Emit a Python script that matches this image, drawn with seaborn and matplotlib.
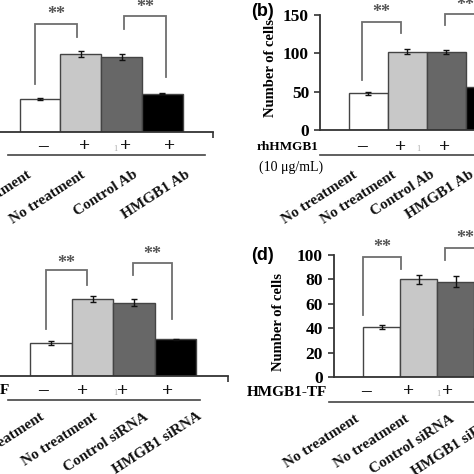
import matplotlib
matplotlib.use("Agg")
import matplotlib.pyplot as plt
import matplotlib.transforms as mtrans
from matplotlib.lines import Line2D
import seaborn as sns
import pandas as pd

# ---------------- data ----------------
keys = ["g1", "g2", "g3", "g4"]
bar_colors = ["#ffffff", "#c8c8c8", "#676767", "#000000"]
signs = ["\u2013", "+", "+", "+"]

labels_a = ["No treatment", "No treatment", "Control Ab", "HMGB1 Ab"]
values_a = [43, 102, 98, 50]
errors_a = [1.5, 4, 4, 1]

labels_b = ["No treatment", "No treatment", "Control Ab", "HMGB1 Ab"]
values_b = [48, 102, 102, 56]
errors_b = [2, 3.5, 2.5, 1]

labels_c = ["No treatment", "No treatment", "Control siRNA", "HMGB1 siRNA"]
values_c = [27, 63, 60, 30]
errors_c = [1.5, 2.5, 3, 0.5]

labels_d = ["No treatment", "No treatment", "Control siRNA", "HMGB1 siRNA"]
values_d = [41, 80, 78, 40]
errors_d = [1.5, 4, 4.5, 1]

yticks_b = [0, 50, 100, 150]
yticks_d = [0, 20, 40, 60, 80, 100]

SERIF = ["Liberation Serif", "DejaVu Serif"]
SANS = ["Liberation Sans", "DejaVu Sans"]

W = H = 474
fig = plt.figure(figsize=(4.74, 4.74), dpi=100)
fig.patch.set_facecolor("white")
AXC = "#333333"
BRC = "#6e6e6e"


def add_axes_px(left, base, width, height):
    return fig.add_axes([left / W, 1 - base / H, width / W, height / H])


def offs(ax, px):
    return ax.transData + mtrans.ScaledTranslation(0, -px / 100.0, fig.dpi_scale_trans)


def panel(ax, values, errors, xlim, ylim, show_y, yticks=None):
    df = pd.DataFrame({"k": keys, "v": values})
    sns.barplot(data=df, x="k", y="v", hue="k", palette=bar_colors, width=1.0,
                edgecolor="#444444", linewidth=1.0, legend=False, ax=ax, zorder=2)
    ax.errorbar(range(len(values)), values, yerr=errors, fmt="none", ecolor="#111111",
                elinewidth=1.0, capsize=2, capthick=1.0, zorder=3)
    ax.set_xlim(*xlim)
    ax.set_ylim(*ylim)
    ax.set_xlabel("")
    ax.set_ylabel("")
    ax.set_facecolor("none")
    for s in ["top", "right"]:
        ax.spines[s].set_visible(False)
    ax.spines["bottom"].set_color(AXC)
    ax.spines["bottom"].set_linewidth(1.3)
    ax.set_xticks([xlim[1]])
    ax.set_xticklabels([""])
    ax.tick_params(axis="x", length=4, width=1.2, color=AXC, direction="out")
    if show_y:
        ax.spines["left"].set_color(AXC)
        ax.spines["left"].set_linewidth(1.3)
        ax.set_yticks(yticks)
        ax.set_yticklabels([str(t) for t in yticks], fontfamily=SERIF,
                           fontweight="bold", fontsize=12.5)
        ax.tick_params(axis="y", length=4, width=1.2, color=AXC, direction="out", pad=4)
    else:
        ax.spines["left"].set_visible(False)
        ax.set_yticks([])


def bracket(ax, x1, x2, ytop, y1, y2, ystar):
    ax.plot([x1, x1, x2, x2], [y1, ytop, ytop, y2], color=BRC, lw=1.3,
            clip_on=False, zorder=4, solid_joinstyle="miter")
    ax.text((x1 + x2) / 2, ystar, "**", ha="center", va="center", color="#555555",
            fontsize=13, fontweight="bold", fontfamily=SERIF, clip_on=False)


def under(ax, sign_x, sign_px, one_x, line_x, line_px, lab_x, lab_px, labels):
    for x, s in zip(sign_x, signs):
        ax.text(x, 0, s, transform=offs(ax, sign_px), ha="center", va="center",
                fontsize=14, fontweight="bold", fontfamily=SERIF, color="#111111",
                clip_on=False)
    ax.text(one_x, 0, "1", transform=offs(ax, sign_px + 2), ha="center", va="center",
            fontsize=6, color="#aaaaaa", fontfamily=SERIF, clip_on=False)
    ln = Line2D(line_x, [0, 0], transform=offs(ax, line_px), color="#444444", lw=1.2,
                clip_on=False)
    ax.add_line(ln)
    for x, lab in zip(lab_x, labels):
        ax.text(x, 0, lab, transform=offs(ax, lab_px), rotation=33, ha="right", va="top",
                rotation_mode="anchor", fontsize=11, fontweight="bold",
                fontfamily=SERIF, color="#111111", clip_on=False)


# ---------------- panel (a) ----------------
ua = 40.75
axa = add_axes_px(40 - 1.25 * ua, 132, 5.5 * ua, 115)
panel(axa, values_a, errors_a, (-1.25, 4.25), (0, 150), False)
bracket(axa, -0.12, 0.91, 141, 63, 124, 153)
bracket(axa, 2.06, 3.09, 151, 134, 72, 163)
under(axa, [0.07, 1.1, 2.09, 3.19], 15, 1.86, [-0.79, 4.05], 23,
      [-0.34, 0.98, 2.28, 3.56], 36, labels_a)

# ---------------- panel (b) ----------------
ub = 39.0
axb = add_axes_px(368.5 - 1.24 * ub, 130, 5.49 * ub, 115)
panel(axb, values_b, errors_b, (-1.24, 4.25), (0, 150), True, yticks_b)
bracket(axb, -0.17, 0.83, 141, 65, 126, 153)
bracket(axb, 1.96, 3.0, 151, 137, 75, 162)
under(axb, [-0.17, 0.81, 1.94, 3.0], 17, 1.29, [-1.24, 5.0], 25,
      [i - 0.42 for i in range(4)], 38, labels_b)

# ---------------- panel (c) ----------------
uc = 41.5
axc = add_axes_px(51 - 1.25 * uc, 376, 5.52 * uc, 122)
panel(axc, values_c, errors_c, (-1.25, 4.27), (0, 100), False)
bracket(axc, -0.12, 0.87, 87, 38.5, 75, 92.5)
bracket(axc, 1.98, 2.92, 92.6, 83, 47, 99.5)
under(axc, [-0.19, 0.77, 1.73, 2.8], 15, 1.54, [-1.04, 3.59], 24,
      [-0.27, 0.99, 2.24, 3.52], 34, labels_c)

# ---------------- panel (d) ----------------
ud = 37.0
axd = add_axes_px(381.5 - 1.28 * ud, 377, 5.53 * ud, 122)
panel(axd, values_d, errors_d, (-1.28, 4.25), (0, 100), True, yticks_d)
bracket(axd, -0.5, 0.53, 98, 51, 88.5, 106)
bracket(axd, 1.72, 2.8, 105.7, 96, 50, 113.5)
under(axd, [-0.42, 0.74, 1.78, 2.9], 15, 1.55, [-1.42, 5.0], 25,
      [-0.72, 0.61, 1.85, 3.1], 35, labels_d)

# ---------------- figure-level texts ----------------
def ftext(x, y, s, **kw):
    fig.text(x / W, 1 - y / H, s, **kw)

ftext(263, 11, "(b)", ha="center", va="center", fontsize=13, fontweight="bold",
      fontfamily=SANS)
ftext(263, 255, "(d)", ha="center", va="center", fontsize=13, fontweight="bold",
      fontfamily=SANS)
ftext(270, 68, "Number of cells", rotation=90, ha="center", va="center",
      fontsize=10.5, fontweight="bold", fontfamily=SERIF)
ftext(279, 322, "Number of cells", rotation=90, ha="center", va="center",
      fontsize=10.5, fontweight="bold", fontfamily=SERIF)
ftext(319, 147, "rhHMGB1", ha="right", va="center", fontsize=9.5, fontweight="bold",
      fontfamily=SERIF)
ftext(259, 167, "(10 \u03bcg/mL)", ha="left", va="center", fontsize=10,
      fontfamily=SERIF)
ftext(327, 392, "HMGB1-TF", ha="right", va="center", fontsize=11, fontweight="bold",
      fontfamily=SERIF)
ftext(10, 391, "HMGB1-TF", ha="right", va="center", fontsize=11, fontweight="bold",
      fontfamily=SERIF)

fig.savefig("out.png", dpi=100, facecolor="white")
